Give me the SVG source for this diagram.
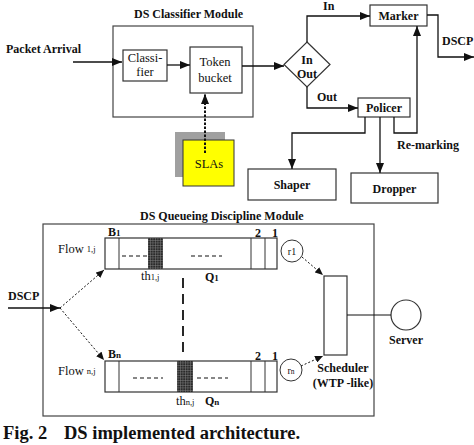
<svg xmlns="http://www.w3.org/2000/svg" width="474" height="445" viewBox="0 0 474 445">
<style>
text{font-family:"Liberation Serif","Times New Roman",serif;fill:#111}
.b{font-weight:bold;font-size:12px}
.r{font-size:12.5px}
.box{fill:#fff;stroke:#333;stroke-width:1.2}
.mod{fill:none;stroke:#444;stroke-width:1.2}
.ln{fill:none;stroke:#111;stroke-width:1.3}
.dot{fill:none;stroke:#111;stroke-width:1;stroke-dasharray:2 2}
.qd{fill:none;stroke:#111;stroke-width:1.2;stroke-dasharray:4 3}
</style>
<defs>
<marker id="ah" markerWidth="10" markerHeight="8" refX="10" refY="4" orient="auto" markerUnits="userSpaceOnUse">
<path d="M0,0 L10,4 L0,8 z" fill="#111"/>
</marker>
<marker id="ahs" markerWidth="8" markerHeight="7" refX="8" refY="3.5" orient="auto" markerUnits="userSpaceOnUse">
<path d="M0,0 L8,3.5 L0,7 z" fill="#111"/>
</marker>
<pattern id="hatch" width="2.5" height="2.5" patternUnits="userSpaceOnUse">
<rect width="2.5" height="2.5" fill="#2a2a2a"/>
<path d="M0,0.3 H2.5 M0.3,0 V2.5" stroke="#888" stroke-width="0.5"/>
</pattern>
</defs>

<g id="classifier-module">
<text class="b" x="134" y="18">DS Classifier Module</text>
<rect class="mod" x="113" y="26" width="140" height="91"/>
</g>
<g id="packet-arrival"><text class="b" x="6" y="53">Packet Arrival</text></g>
<g id="classifier">
<rect class="box" x="123" y="50" width="44" height="31"/>
<text class="r" x="145" y="62" text-anchor="middle">Classi-</text>
<text class="r" x="145" y="76" text-anchor="middle">fier</text>
</g>
<g id="token-bucket">
<rect class="box" x="190" y="47" width="52" height="46"/>
<text class="r" x="215" y="66" text-anchor="middle">Token</text>
<text class="r" x="215" y="82" text-anchor="middle">bucket</text>
</g>
<g id="slas">
<rect x="175" y="132" width="50" height="45" fill="#a0a0a0"/>
<rect x="183" y="140" width="51" height="46" fill="#ffff00" stroke="#333" stroke-width="1"/>
<text class="r" x="209" y="168" text-anchor="middle" font-size="13">SLAs</text>
</g>
<g id="inout">
<path d="M307,42 L330,64.5 L307,87 L284,64.5 z" fill="#fff" stroke="#333" stroke-width="1.2"/>
<text class="b" x="307" y="64" text-anchor="middle">In</text>
<text class="b" x="307" y="78" text-anchor="middle">Out</text>
</g>
<g id="marker">
<rect class="box" x="370" y="5" width="57" height="21"/>
<text class="b" x="398.5" y="20" text-anchor="middle">Marker</text>
</g>
<g id="policer">
<rect class="box" x="358" y="98" width="52" height="19"/>
<text class="b" x="384" y="112" text-anchor="middle">Policer</text>
</g>
<g id="shaper">
<rect class="box" x="248" y="169" width="88" height="31"/>
<text class="b" x="292" y="189" text-anchor="middle">Shaper</text>
</g>
<g id="dropper">
<rect class="box" x="351" y="173" width="87" height="30"/>
<text class="b" x="394.5" y="193" text-anchor="middle">Dropper</text>
</g>

<g id="queueing-module">
<text class="b" x="140" y="220">DS Queueing Discipline Module</text>
<rect class="mod" x="43" y="224" width="331" height="192"/>
</g>
<g id="dscp-in"><text class="b" x="8" y="300">DSCP</text></g>
<g id="queue1">
<rect class="box" x="105" y="238" width="172" height="31"/>
<path d="M119,238 V269 M251,238 V269 M265,238 V269" stroke="#333" stroke-width="1" fill="none"/>
<rect x="148" y="238" width="15" height="31" fill="url(#hatch)"/>
<path class="qd" d="M122,256 H147 M191,256 H222"/>
<text class="b" x="108" y="236">B<tspan font-size="9">1</tspan></text>
<text class="r" x="58" y="253">Flow <tspan font-size="8.5" dy="-1">1,j</tspan></text>
<text class="r" x="141" y="280" font-size="11.5">th<tspan font-size="8.5">1,j</tspan></text>
<text class="b" x="205" y="281">Q<tspan font-size="9">1</tspan></text>
<text class="b" x="255" y="237">2</text>
<text class="b" x="272" y="237">1</text>
</g>
<g id="queuen">
<rect class="box" x="105" y="361" width="172" height="31"/>
<path d="M119,361 V392 M251,361 V392 M265,361 V392" stroke="#333" stroke-width="1" fill="none"/>
<rect x="177" y="361" width="16" height="31" fill="url(#hatch)"/>
<path class="qd" d="M133,378 H163 M197,378 H228"/>
<text class="b" x="108" y="358">B<tspan font-size="9">n</tspan></text>
<text class="r" x="58" y="375">Flow <tspan font-size="8.5" dy="-1">n,j</tspan></text>
<text class="r" x="176" y="405" font-size="11.5">th<tspan font-size="8.5">n,j</tspan></text>
<text class="b" x="205" y="405">Q<tspan font-size="9">n</tspan></text>
<text class="b" x="255" y="360">2</text>
<text class="b" x="272" y="360">1</text>
</g>
<g id="r1">
<circle cx="292" cy="251" r="11" fill="#fff" stroke="#333" stroke-width="1"/>
<text x="292" y="255" text-anchor="middle" font-size="10">r1</text>
</g>
<g id="rn">
<circle cx="291" cy="370" r="11" fill="#fff" stroke="#333" stroke-width="1"/>
<text x="291" y="374" text-anchor="middle" font-size="10">r<tspan font-size="7.5">n</tspan></text>
</g>
<g id="scheduler">
<rect class="box" x="324" y="276" width="23" height="79"/>
<text class="b" x="343" y="372" text-anchor="middle">Scheduler</text>
<text class="b" x="343" y="387" text-anchor="middle">(WTP -like)</text>
</g>
<g id="server">
<circle cx="406" cy="315" r="15" fill="#fff" stroke="#333" stroke-width="1.2"/>
<text class="b" x="406" y="344" text-anchor="middle">Server</text>
</g>

<g id="connectors">
<path class="ln" d="M73,62 H122" marker-end="url(#ah)"/>
<path class="ln" d="M167,65 H190" marker-end="url(#ah)"/>
<path class="ln" d="M242,66 H284" marker-end="url(#ah)"/>
<path d="M205,153 V94" fill="none" stroke="#111" style="stroke-width:2;stroke-dasharray:2.5 1.5" marker-end="url(#ah)"/>
<path class="ln" d="M307,42 V16 H370" marker-end="url(#ah)"/>
<path class="ln" d="M307,87 V108 H358" marker-end="url(#ah)"/>
<path class="ln" d="M427,15 H438 V57 H474" marker-end="url(#ah)"/>
<path class="ln" d="M365,117 V133 H292 V169" marker-end="url(#ah)"/>
<path class="ln" d="M380,117 V173" marker-end="url(#ah)"/>
<path class="ln" d="M394,117 V133 H417 V26" marker-end="url(#ah)"/>
<path class="ln" d="M8,308 H60" marker-end="url(#ah)"/>
<path class="dot" d="M60,308 L104,270" marker-end="url(#ahs)"/>
<path class="dot" d="M60,308 L104,360" marker-end="url(#ahs)"/>
<path d="M183,278 V352" fill="none" stroke="#111" style="stroke-width:1.8;stroke-dasharray:10 6"/>
<path class="dot" d="M302,257 L323,275" marker-end="url(#ahs)"/>
<path class="dot" d="M301,366 L323,356" marker-end="url(#ahs)"/>
<path d="M347,315 H391" fill="none" stroke="#111" stroke-width="1"/>
</g>
<g id="edge-labels">
<text class="b" x="323" y="10">In</text>
<text class="b" x="317" y="101">Out</text>
<text class="b" x="442" y="45">DSCP</text>
<text class="b" x="397" y="149">Re-marking</text>
</g>
<g id="caption">
<text x="3" y="439" font-weight="bold" font-size="18.5">Fig. 2</text>
<text x="64" y="439" font-weight="bold" font-size="18.5">DS implemented architecture.</text>
</g>
</svg>
